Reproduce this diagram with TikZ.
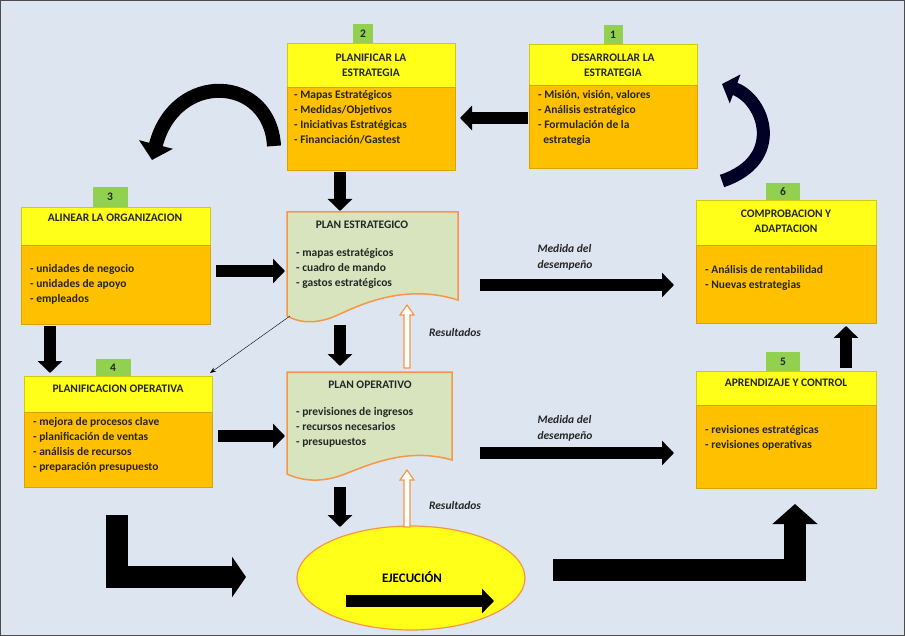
\documentclass[tikz,border=0pt]{standalone}
\usepackage{fontspec}
\setmainfont{Carlito}
\usetikzlibrary{arrows.meta,shapes.geometric}
\definecolor{bgc}{HTML}{DCE5F0}
\definecolor{yel}{HTML}{FFFF1A}
\definecolor{org}{HTML}{FFC000}
\definecolor{grn}{HTML}{92D050}
\definecolor{docf}{HTML}{D8E4BE}
\definecolor{doce}{HTML}{F79646}
\newcommand\myhollow[3]{\draw[doce,fill=white,line width=1.2pt] (#1-3,#2) -- (#1-3,#3+10) -- (#1-7,#3+10) -- (#1,#3) -- (#1+7,#3+10) -- (#1+3,#3+10) -- (#1+3,#2) -- cycle;}
\begin{document}
\begin{tikzpicture}[x=1pt,y=-1pt,
 hdr/.style={fill=yel,draw=yel!80!black,line width=0.3pt},
 bod/.style={fill=org,draw=org!85!black,line width=0.3pt},
 tag/.style={fill=grn,draw=none},
 ht/.style={font=\fontsize{11.5}{15}\selectfont\bfseries,align=center,text=black!85},
 bt/.style={font=\fontsize{11.5}{15}\selectfont\bfseries,align=left,anchor=north west,inner sep=0,text=black!85},
 it/.style={font=\fontsize{11.5}{16}\selectfont\bfseries\itshape,align=left,text=black!85},
 blk/.style={line width=12pt,-{Triangle[width=24pt,length=12pt]}},
 docs/.style={fill=docf,draw=doce,line width=1.5pt}]
\useasboundingbox (0,0) rectangle (905,636);
\fill[bgc] (0,0) rectangle (905,636);
\draw[black!70,line width=1pt] (0.5,0.5) rectangle (904.5,635.5);
% box 2
\fill[tag] (353,24) rectangle (373,43); \node[ht] (t2) at (363,34) {2};
\draw[hdr] (287,43) rectangle (455,87); \node[ht] (h2) at (371,65) {PLANIFICAR LA\\ESTRATEGIA};
\draw[bod] (287,87) rectangle (455,170);
\node[bt] (b2) at (294,90) {- Mapas Estratégicos\\- Medidas/Objetivos\\- Iniciativas Estratégicas\\- Financiación/Gastest};
% box 1
\fill[tag] (604,25) rectangle (623,44); \node[ht] (t1) at (613,35) {1};
\draw[hdr] (529,44) rectangle (697,85); \node[ht] (h1) at (613,65) {DESARROLLAR LA\\ESTRATEGIA};
\draw[bod] (529,85) rectangle (697,168);
\node[bt] (b1) at (538,90) {- Misión, visión, valores\\- Análisis estratégico\\- Formulación de la\\\ \ estrategia};
% box 3
\fill[tag] (93,187) rectangle (128,207); \node[ht] (t3) at (110,197) {3};
\draw[hdr] (21,207) rectangle (210,245); \node[ht] (h3) at (115,218) {ALINEAR LA ORGANIZACION};
\draw[bod] (21,245) rectangle (210,324);
\node[bt] (b3) at (30,264) {- unidades de negocio\\- unidades de apoyo\\- empleados};
% box 4
\fill[tag] (96,359) rectangle (131,376); \node[ht] (t4) at (113,368) {4};
\draw[hdr] (24,376) rectangle (212,412); \node[ht] (h4) at (118,389) {PLANIFICACION OPERATIVA};
\draw[bod] (24,412) rectangle (212,487);
\node[bt] (b4) at (33,417) {- mejora de procesos clave\\- planificación de ventas\\- análisis de recursos\\- preparación presupuesto};
% box 6
\fill[tag] (766,183) rectangle (800,200); \node[ht] (t6) at (783,192) {6};
\draw[hdr] (696,200) rectangle (876,245); \node[ht] (h6) at (786,221) {COMPROBACION Y\\ADAPTACION};
\draw[bod] (696,245) rectangle (876,323);
\node[bt] (b6) at (705,265) {- Análisis de rentabilidad\\- Nuevas estrategias};
% box 5
\fill[tag] (766,352) rectangle (800,371); \node[ht] (t5) at (783,362) {5};
\draw[hdr] (696,371) rectangle (876,405); \node[ht] (h5) at (786,383) {APRENDIZAJE Y CONTROL};
\draw[bod] (696,405) rectangle (876,488);
\node[bt] (b5) at (705,425) {- revisiones estratégicas\\- revisiones operativas};
% documents
\draw[docs] (287,212) -- (458,212) -- (458,300) .. controls (410,285) and (370,300) .. (340,314) .. controls (315,326) and (298,322) .. (287,316) -- cycle;
\node[ht] (pe) at (362,225) {PLAN ESTRATEGICO};
\node[bt] (pet) at (296,248) {- mapas estratégicos\\- cuadro de mando\\- gastos estratégicos};
\draw[docs] (287,372) -- (452,372) -- (452,460) .. controls (410,448) and (375,462) .. (345,474) .. controls (320,484) and (300,480) .. (287,474) -- cycle;
\node[ht] (po) at (370,385) {PLAN OPERATIVO};
\node[bt] (pot) at (296,407) {- previsiones de ingresos\\- recursos necesarios\\- presupuestos};
% ellipse
\node[ellipse,fill=yel,draw=doce,line width=1.2pt,minimum width=228pt,minimum height=104pt] (ej) at (411,578) {};
\node[font=\fontsize{13}{15}\selectfont\bfseries] (ejt) at (412,577) {EJECUCIÓN};
% block arrows
\coordinate (a1) at (528,118); \coordinate (a2) at (460,118);
\draw[blk] (a1) -- (a2);
\draw[blk] (340,172) -- (340,211);
\draw[blk] (216,271) -- (285,271);
\draw[blk] (480,285) -- (674,285);
\node[it] (m1) at (565,257) {Medida del\\desempeño};
\draw[blk] (50,326) -- (50,373);
\draw[blk] (340,325) -- (340,366);
\draw[blk] (218,436) -- (285,436);
\draw[blk] (480,453) -- (674,453);
\node[it] (m2) at (565,428) {Medida del\\desempeño};
\draw[blk] (340,487) -- (340,527);
\draw[blk] (846,368) -- (846,326);
\draw[blk] (346,601) -- (494,601);
\draw[line width=22pt,-{Triangle[width=40pt,length=14pt]}] (117,515) -- (117,577) -- (246,577);
\draw[line width=22pt,-{Triangle[width=44pt,length=20pt]}] (553,570) -- (795,570) -- (795,504);
% hollow arrows
\myhollow{407}{368}{305}
\myhollow{407}{527}{470}
\node[it] (r1) at (455,333) {Resultados};
\node[it] (r2) at (455,506) {Resultados};
% thin arrow
\draw[-{Stealth[length=6pt]},line width=0.4pt] (290,316) -- (210,373);
% curved arrows
\draw[line width=14pt,-{Triangle[width=34pt,length=16pt]}] (274,146) .. controls (270,75) and (175,70) .. (152,160);
\draw[line width=13pt,draw=black!85!blue,-{Triangle[width=30pt,length=14pt]}] (722,181) .. controls (785,160) and (765,100) .. (722,84);
\end{tikzpicture}
\end{document}
